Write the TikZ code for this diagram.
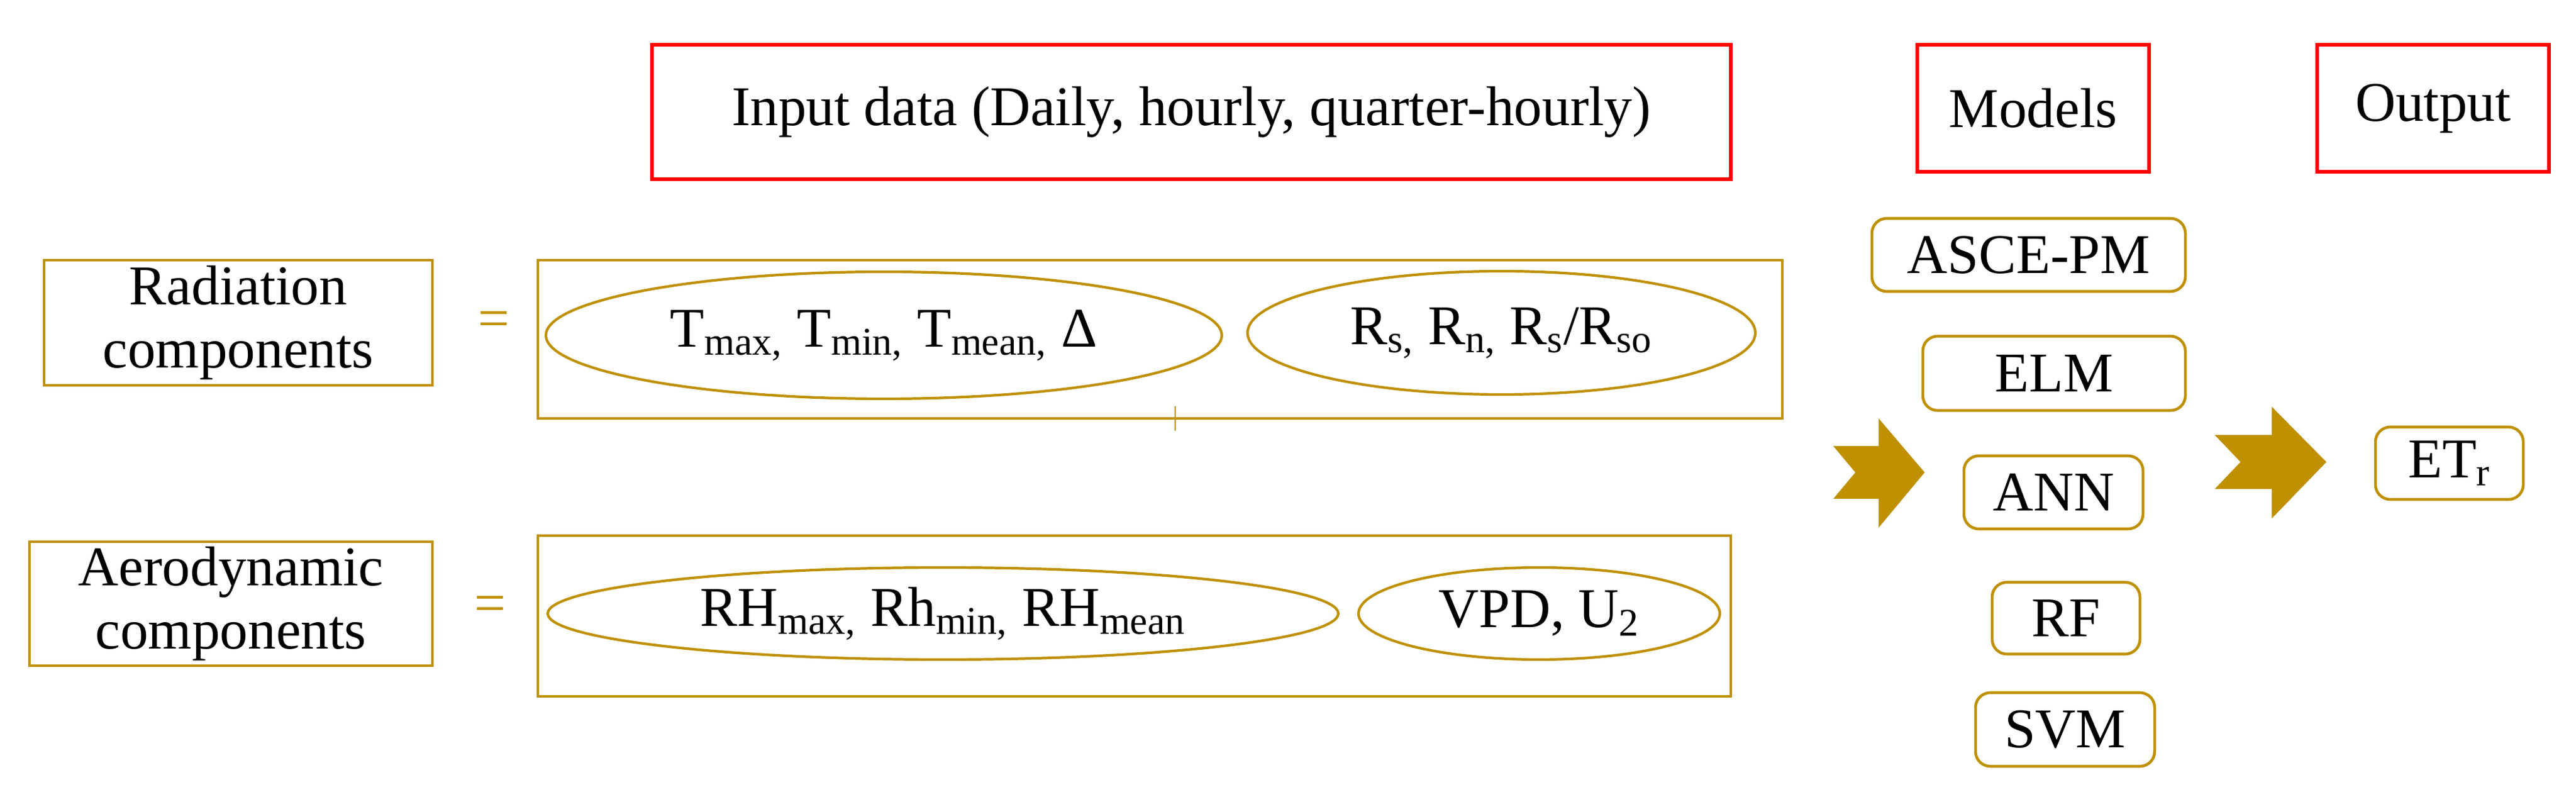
\documentclass[tikz,border=0pt]{standalone}
\usepackage{fontspec}
\setmainfont{Liberation Serif}
\usetikzlibrary{shapes.geometric}
\definecolor{gold}{HTML}{BF9000}

\begin{document}
\begin{tikzpicture}[
    font=\fontsize{26}{29.5}\selectfont,
    head/.style={draw=red, line width=1.6pt, inner sep=0pt},
    part/.style={draw=gold, line width=1.3pt, inner sep=0pt, align=center},
    var/.style={ellipse, draw=gold, line width=1.2pt, inner sep=0pt},
    model/.style={draw=gold, line width=1.3pt, rounded corners=0.24cm, inner sep=0pt}
]
\useasboundingbox (0,0) rectangle (42,12.99);

% Column headings
\node[head, minimum width=17.59cm, minimum height=2.19cm] (input) at (19.425,11.165)
    {Input data (Daily, hourly, quarter-hourly)};
\node[head, minimum width=3.78cm, minimum height=2.07cm] (models) at (33.15,11.225) {Models};
\node[head, minimum width=3.78cm, minimum height=2.07cm] (output) at (39.67,11.225) {Output};

% Component groups
\node[part, minimum width=6.33cm, minimum height=2.04cm] (rad) at (3.885,7.73)
    {Radiation\\components};
\node[part, minimum width=6.57cm, minimum height=2.02cm] (aero) at (3.765,3.15)
    {Aerodynamic\\components};

\node[text=gold] (eqrad) at (8.05,7.70) {=};
\node[text=gold] (eqaero) at (7.99,3.06) {=};

% Variable frames
\node[part, minimum width=20.29cm, minimum height=2.58cm] (radvars) at (18.915,7.46) {};
\node[part, minimum width=19.45cm, minimum height=2.62cm] (aerovars) at (18.495,2.95) {};

% Radiation variables
\node[var, minimum width=11.02cm, minimum height=2.07cm] (temp) at (14.41,7.525)
    {T\textsubscript{max,} T\textsubscript{min,} T\textsubscript{mean,} Δ};
\node[var, minimum width=8.28cm, minimum height=2.01cm] (sun) at (24.48,7.565)
    {R\textsubscript{s,} R\textsubscript{n,} R\textsubscript{s}/R\textsubscript{so}};

% Aerodynamic variables
\node[var, minimum width=12.89cm, minimum height=1.50cm] (hum) at (15.375,2.99)
    {RH\textsubscript{max,} Rh\textsubscript{min,} RH\textsubscript{mean}};
\node[var, minimum width=5.89cm, minimum height=1.50cm] (wind) at (25.095,2.99)
    {VPD, U\textsubscript{2}};

% Small mark under the radiation frame
\draw[gold, line width=0.8pt] (19.16,6.37) -- (19.16,5.97);

% Models
\node[model, minimum width=5.11cm, minimum height=1.19cm] (asce) at (33.075,8.835) {ASCE-PM};
\node[model, minimum width=4.28cm, minimum height=1.21cm] (elm) at (33.49,6.905) {ELM};
\node[model, minimum width=2.92cm, minimum height=1.19cm] (ann) at (33.48,4.965) {ANN};
\node[model, minimum width=2.41cm, minimum height=1.17cm] (rf) at (33.685,2.915) {RF};
\node[model, minimum width=2.92cm, minimum height=1.20cm] (svm) at (33.67,1.10) {SVM};

% Result
\node[model, minimum width=2.41cm, minimum height=1.18cm] (etr) at (39.935,5.44) {ET\textsubscript{r}};

% Block arrows
\fill[gold] (29.89,5.72) -- (30.63,5.72) -- (30.63,6.17) -- (31.38,5.29)
    -- (30.63,4.39) -- (30.63,4.86) -- (29.89,4.86) -- (30.25,5.29) -- cycle;
\fill[gold] (36.11,5.90) -- (37.04,5.90) -- (37.04,6.36) -- (37.93,5.46)
    -- (37.04,4.54) -- (37.04,5.02) -- (36.11,5.02) -- (36.53,5.46) -- cycle;

\end{tikzpicture}
\end{document}
